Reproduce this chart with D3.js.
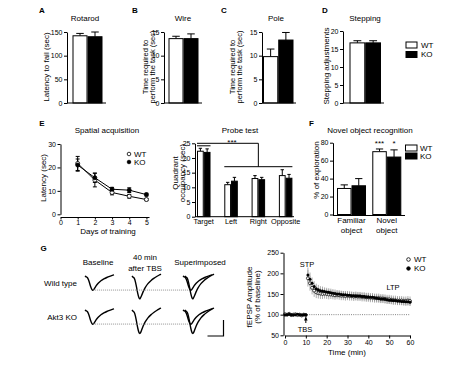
<!DOCTYPE html>
<html><head><meta charset="utf-8">
<script src="https://cdn.jsdelivr.net/npm/d3@7"></script>
<style>
body{margin:0;background:#fff;}
svg{display:block;font-family:"Liberation Sans",Arial,sans-serif;}
</style></head><body>
<svg id="c" width="474" height="366"></svg>
<script>
// ---------------- DATA ----------------
const genotypes = ["WT", "KO"];
const rotarodVals = [142, 140], rotarodErr = [5, 10];
const wireVals = [13.6, 13.6], wireErr = [0.5, 1.0];
const poleVals = [9.8, 13.3], poleErr = [1.6, 1.6];
const steppingVals = [16.7, 16.7], steppingErr = [0.6, 0.6];

const days = [1, 2, 3, 4, 5];
const dayTicks = [0, 1, 2, 3, 4, 5];
const acqWT = [21.7, 14.6, 9.3, 7.7, 6.3], acqWTErr = [3.0, 2.9, 1.0, 0.8, 0.5];
const acqKO = [21.0, 15.6, 10.7, 10.3, 8.4], acqKOErr = [2.6, 2.0, 0.8, 1.0, 0.6];

const quadrants = ["Target", "Left", "Right", "Opposite"];
const probeWT = [22.3, 10.9, 13.0, 14.0], probeWTErr = [1.0, 0.8, 1.0, 2.0];
const probeKO = [21.9, 12.1, 12.6, 13.1], probeKOErr = [1.2, 1.3, 0.8, 1.3];

const objects = ["Familiar", "Novel"];
const novelWT = [29, 70], novelWTErr = [4, 3];
const novelKO = [32, 64], novelKOErr = [8, 8];

const ltpTime = [0,1,2,3,4,5,6,7,8,9,10,11,12,13,14,15,16,17,18,19,20,21,22,23,24,25,26,27,28,29,30,31,32,33,34,35,36,37,38,39,40,41,42,43,44,45,46,47,48,49,50,51,52,53,54,55,56,57,58,59,60];
const ltpWT = [101,100,102,99,100,101,99,100,98,100,99,
  188,176,165,158,154,152,151,150,151,150,149,149,148,147,148,147,146,146,145,146,
  145,145,144,145,144,144,143,143,142,142,141,141,140,140,140,139,139,138,137,137,
  136,135,135,134,134,134,133,133,134,133];
const ltpKO = [99,100,101,100,99,100,101,100,99,100,100,
  196,186,176,168,163,160,158,157,156,155,154,153,152,151,150,150,149,148,148,147,
  147,146,146,145,145,145,144,144,143,143,142,142,141,140,139,138,138,137,136,135,
  135,134,134,133,133,132,132,131,131,130];
const ltpWTErr = [3,3,3,3,3,3,3,3,3,3,3,
  20,18,16,15,14,13,13,12,12,12,12,11,11,11,11,11,11,11,11,11,
  11,11,11,11,11,11,11,11,11,11,11,11,11,11,11,11,11,11,11,11,
  11,11,11,11,11,11,11,11,11,11];
const ltpKOErr = [2,2,2,2,2,2,2,2,2,2,2,
  18,16,14,13,12,12,11,11,10,10,10,10,10,10,9,9,9,9,9,9,
  9,9,9,9,9,9,9,9,9,9,9,9,9,9,9,9,9,9,9,9,
  9,9,9,9,9,9,9,9,9,9];

// representative fEPSP waveform (time in ms, normalized amplitude)
const traceTime = [0, 0.4, 0.8, 1.2, 1.6, 2.0, 2.4, 2.8, 3.2, 3.8, 4.5, 5.5, 6.5, 7.5, 8.5, 9.5, 10];
const traceShape = [0, -0.06, -0.08, -0.25, -0.5, -0.78, -0.96, -1.0, -0.88, -0.68, -0.5, -0.32, -0.2, -0.1, -0.02, 0.05, 0.08];
const traceRows = ["Wild type", "Akt3 KO"];
const ampBaseline = [1.0, 1.0];
const ampAfterTBS = [1.6, 1.65];

// ---------------- DRAWING ----------------
const svg = d3.select("#c");
const FONT = '"Liberation Sans", Arial, sans-serif';

function styleAxis(g) {
  g.attr("font-size", 7).attr("font-family", FONT);
  g.select(".domain").attr("stroke", "#000").attr("stroke-width", 1);
  g.selectAll(".tick line").attr("stroke", "#000");
  g.selectAll(".tick text").attr("fill", "#000");
}
function text(x, cy, s, o = {}) {
  const fs = o.fs || 8;
  return svg.append("text").attr("x", x).attr("y", cy + fs * 0.35)
    .attr("text-anchor", o.anchor || "middle").attr("font-size", fs)
    .attr("font-weight", o.bold ? "bold" : null).attr("fill", "#000").text(s);
}
function vtext(cx, cy, s, fs = 8) {
  return svg.append("text").attr("transform", `translate(${cx + fs * 0.35},${cy}) rotate(-90)`)
    .attr("text-anchor", "middle").attr("font-size", fs).attr("fill", "#000").text(s);
}

function barPanel(o) {
  const y = d3.scaleLinear().domain([0, o.max]).range([o.yb, o.yt]);
  const x = d3.scaleBand().domain(o.groups).range(o.xr).paddingInner(o.pad || 0).paddingOuter(0);
  const s = d3.scaleBand().domain(genotypes).range([0, x.bandwidth()]);
  const g = svg.append("g");
  o.groups.forEach((gr, i) => {
    [["WT", o.wt, o.wtErr], ["KO", o.ko, o.koErr]].forEach(([k, v, e]) => {
      const bx = x(gr) + s(k), bw = s.bandwidth(), cx = bx + bw / 2;
      g.append("line").attr("x1", cx).attr("x2", cx).attr("y1", y(v[i])).attr("y2", y(v[i] + e[i])).attr("stroke", "#000");
      g.append("line").attr("x1", cx - bw / 4).attr("x2", cx + bw / 4).attr("y1", y(v[i] + e[i])).attr("y2", y(v[i] + e[i])).attr("stroke", "#000");
      g.append("rect").attr("x", bx + 0.5).attr("y", y(v[i])).attr("width", bw - 1).attr("height", y(0) - y(v[i]))
        .attr("fill", k === "WT" ? "#fff" : "#000").attr("stroke", "#000");
    });
  });
  const ay = g.append("g").attr("transform", `translate(${o.ax},0)`)
    .call(d3.axisLeft(y).tickValues(o.ticks).tickFormat(d3.format("d")).tickSize(3).tickSizeOuter(0).tickPadding(1.5));
  styleAxis(ay);
  g.append("line").attr("x1", o.ax).attr("x2", o.xEnd).attr("y1", o.xy || y(0)).attr("y2", o.xy || y(0)).attr("stroke", "#000");
  return { x, y, s };
}

// ---- Panel A-D ----
barPanel({ ax: 67, yb: 103, yt: 32, max: 150, ticks: [0, 50, 100, 150], groups: [""], xr: [72.5, 102.5], xEnd: 106,
  wt: [rotarodVals[0]], wtErr: [rotarodErr[0]], ko: [rotarodVals[1]], koErr: [rotarodErr[1]] });
barPanel({ ax: 164, yb: 103, yt: 32, max: 15, ticks: [0, 5, 10, 15], groups: [""], xr: [168.5, 198.5], xEnd: 202,
  wt: [wireVals[0]], wtErr: [wireErr[0]], ko: [wireVals[1]], koErr: [wireErr[1]] });
barPanel({ ax: 262, yb: 103, yt: 32, max: 15, ticks: [0, 5, 10, 15], groups: [""], xr: [263, 293.5], xEnd: 296,
  wt: [poleVals[0]], wtErr: [poleErr[0]], ko: [poleVals[1]], koErr: [poleErr[1]] });
barPanel({ ax: 343, yb: 103, yt: 31, max: 20, ticks: [0, 5, 10, 15, 20], groups: [""], xr: [349.5, 381], xEnd: 384,
  wt: [steppingVals[0]], wtErr: [steppingErr[0]], ko: [steppingVals[1]], koErr: [steppingErr[1]] });

text(42, 10.5, "A", { bold: true });
text(135, 10.5, "B", { bold: true });
text(224, 10.5, "C", { bold: true });
text(325, 10.5, "D", { bold: true });
text(85, 18, "Rotarod");
text(183, 18, "Wire");
text(276, 18, "Pole");
text(365, 18, "Stepping");
vtext(46, 67, "Latency  to fail (sec)");
vtext(145, 67, "Time required to", 7.5);
vtext(152, 67, "perform the task (sec)", 7.5);
vtext(232, 67, "Time required to", 7.5);
vtext(239, 67, "perform the task (sec)", 7.5);
vtext(326, 66, "Stepping adjustments");

// legend D
genotypes.forEach((k, i) => {
  svg.append("rect").attr("x", 406).attr("y", 42 + i * 9.5).attr("width", 11).attr("height", 6)
    .attr("fill", k === "WT" ? "#fff" : "#000").attr("stroke", "#000");
  text(421, 45 + i * 9.5, k, { anchor: "start", fs: 8 });
});

// ---- Panel E: spatial acquisition ----
{
  const x = d3.scaleLinear().domain([0, 5.15]).range([60.5, 149]);
  const y = d3.scaleLinear().domain([0, 30]).range([214.3, 144]);
  const g = svg.append("g");
  const ax = g.append("g").attr("transform", "translate(0,217)")
    .call(d3.axisBottom(x).tickValues(dayTicks).tickFormat(d3.format("d")).tickSize(2.5).tickSizeOuter(0).tickPadding(0.5));
  styleAxis(ax);
  const ay = g.append("g").attr("transform", "translate(60.5,0)")
    .call(d3.axisLeft(y).tickValues([0, 10, 20, 30]).tickFormat(d3.format("d")).tickSize(3).tickSizeOuter(0).tickPadding(1.5));
  styleAxis(ay);
  const series = [["WT", acqWT, acqWTErr], ["KO", acqKO, acqKOErr]];
  series.forEach(([k, v, e]) => {
    days.forEach((d, i) => {
      g.append("line").attr("x1", x(d)).attr("x2", x(d)).attr("y1", y(v[i] - e[i])).attr("y2", y(v[i] + e[i])).attr("stroke", "#000");
      [v[i] - e[i], v[i] + e[i]].forEach(t => g.append("line").attr("x1", x(d) - 2).attr("x2", x(d) + 2).attr("y1", y(t)).attr("y2", y(t)).attr("stroke", "#000"));
    });
    g.append("path").attr("d", d3.line().x((d, i) => x(days[i])).y(d => y(d))(v)).attr("fill", "none").attr("stroke", "#000");
  });
  series.forEach(([k, v]) => {
    days.forEach((d, i) => g.append("circle").attr("cx", x(d)).attr("cy", y(v[i])).attr("r", 2)
      .attr("fill", k === "WT" ? "#fff" : "#000").attr("stroke", "#000").attr("stroke-width", 0.8));
  });
  genotypes.forEach((k, i) => {
    g.append("circle").attr("cx", 129).attr("cy", 154 + i * 8).attr("r", 1.8)
      .attr("fill", k === "WT" ? "#fff" : "#000").attr("stroke", "#000").attr("stroke-width", 0.8);
    text(134, 154 + i * 8, k, { anchor: "start", fs: 8 });
  });
  text(42, 123, "E", { bold: true });
  text(107, 130, "Spatial acquisition");
  vtext(43, 178, "Latency (sec)");
  text(108, 231, "Days of training");
}

// ---- Panel E: probe test ----
{
  const r = barPanel({ ax: 195, yb: 216.7, yt: 143.3, max: 25, ticks: [0, 5, 10, 15, 20, 25], groups: quadrants,
    xr: [197, 292.4], pad: 0.505, xEnd: 294, wt: probeWT, wtErr: probeWTErr, ko: probeKO, koErr: probeKOErr });
  quadrants.forEach(q => text(r.x(q) + r.x.bandwidth() / 2, 221.5, q, { fs: 7.3 }));
  const xL = r.x("Target"), xR = r.x("Right") + r.x.bandwidth() / 2;
  svg.append("path").attr("d", `M${xL},143.3H${xR}V166.7`).attr("fill", "none").attr("stroke", "#000");
  svg.append("line").attr("x1", xL).attr("x2", xL + r.x.bandwidth()).attr("y1", 145.8).attr("y2", 145.8).attr("stroke", "#000");
  svg.append("line").attr("x1", r.x("Left")).attr("x2", r.x("Opposite") + r.x.bandwidth()).attr("y1", 166.7).attr("y2", 166.7).attr("stroke", "#000");
  text(232, 142, "***", { fs: 8 });
  text(240, 130, "Probe test");
  vtext(175, 173, "Quadrant");
  vtext(182, 173, "occupancy (sec)");
}

// ---- Panel F ----
{
  const r = barPanel({ ax: 333, yb: 214.5, yt: 142.7, max: 80, ticks: [0, 20, 40, 60, 80], groups: objects,
    xr: [337, 401.3], pad: 0.178, xEnd: 405, xy: 215.5, wt: novelWT, wtErr: novelWTErr, ko: novelKO, koErr: novelKOErr });
  objects.forEach(o => {
    const cx = r.x(o) + r.x.bandwidth() / 2;
    text(cx, 220, o);
    text(cx, 230, "object");
  });
  const nx = r.x("Novel");
  text(nx + r.s("WT") + r.s.bandwidth() / 2, 143, "***", { fs: 8 });
  text(nx + r.s("KO") + r.s.bandwidth() / 2, 143, "*", { fs: 8 });
  genotypes.forEach((k, i) => {
    svg.append("rect").attr("x", 405.5).attr("y", 145 + i * 8).attr("width", 11.5).attr("height", 6)
      .attr("fill", k === "WT" ? "#fff" : "#000").attr("stroke", "#000");
    text(420, 148 + i * 8, k, { anchor: "start", fs: 8 });
  });
  text(311.5, 123, "F", { bold: true });
  text(370, 130, "Novel object recognition");
  vtext(316, 170, "% of exploration");
}

// ---- Panel G: traces ----
{
  text(43.5, 248, "G", { bold: true });
  text(98, 262, "Baseline");
  text(145, 257, "40 min");
  text(145, 268, "after TBS");
  text(200, 262, "Superimposed");
  const rowY = [276, 310];
  const rowLabelY = [283, 317];
  const colX = [85, 132, 183];
  const tx = d3.scaleLinear().domain([0, 10]);
  traceRows.forEach((row, ri) => {
    text(77, rowLabelY[ri], row, { anchor: "end" });
    const ty = d3.scaleLinear().domain([0, -1]).range([rowY[ri], rowY[ri] + 14.5]);
    const draw = (x0, amp) => {
      tx.range([x0, x0 + 29]);
      svg.append("path").attr("d", d3.line().curve(d3.curveBasis).x((d, i) => tx(traceTime[i])).y(d => ty(d * amp))(traceShape))
        .attr("fill", "none").attr("stroke", "#000").attr("stroke-width", 1.4);
    };
    draw(colX[0], ampBaseline[ri]);
    draw(colX[1], ampAfterTBS[ri]);
    draw(colX[2], ampBaseline[ri]);
    draw(colX[2] + 2, ampAfterTBS[ri]);
    tx.range([colX[0], colX[0] + 29]);
    svg.append("line").attr("x1", tx(2.8)).attr("x2", colX[2] + 6).attr("y1", ty(-0.97 * ampBaseline[ri])).attr("y2", ty(-0.97 * ampBaseline[ri]))
      .attr("stroke", "#888").attr("stroke-width", 0.9).attr("stroke-dasharray", "1,1");
  });
  svg.append("path").attr("d", "M223.5,320V336H207.5").attr("fill", "none").attr("stroke", "#000").attr("stroke-width", 1.2);
}

// ---- Panel G: LTP time course ----
{
  const x = d3.scaleLinear().domain([0, 60]).range([285, 410]);
  const y = d3.scaleLinear().domain([50, 250]).range([335.3, 252.7]);
  const g = svg.append("g");
  g.append("line").attr("x1", x(0)).attr("x2", x(60)).attr("y1", y(100)).attr("y2", y(100))
    .attr("stroke", "#777").attr("stroke-width", 0.9).attr("stroke-dasharray", "1,1.2");
  [[ltpWT, ltpWTErr], [ltpKO, ltpKOErr]].forEach(([v, e]) => {
    ltpTime.forEach((t, i) => g.append("line").attr("x1", x(t)).attr("x2", x(t)).attr("y1", y(v[i] - e[i])).attr("y2", y(v[i] + e[i]))
      .attr("stroke", "#999").attr("stroke-width", 0.8));
  });
  ltpTime.forEach((t, i) => g.append("circle").attr("cx", x(t)).attr("cy", y(ltpWT[i])).attr("r", 1.5)
    .attr("fill", "#fff").attr("stroke", "#000").attr("stroke-width", 0.7));
  ltpTime.forEach((t, i) => g.append("circle").attr("cx", x(t)).attr("cy", y(ltpKO[i])).attr("r", 1.5).attr("fill", "#000"));
  const ax = g.append("g").attr("transform", "translate(0,335.5)")
    .call(d3.axisBottom(x).tickValues([0, 10, 20, 30, 40, 50, 60]).tickFormat(d3.format("d")).tickSize(3).tickSizeOuter(0).tickPadding(1.5));
  styleAxis(ax);
  const ay = g.append("g").attr("transform", "translate(283.5,0)")
    .call(d3.axisLeft(y).tickValues([50, 100, 150, 200, 250]).tickFormat(d3.format("d")).tickSize(3).tickSizeOuter(0).tickPadding(1.5));
  styleAxis(ay);
  text(307, 264, "STP", { fs: 7.5 });
  text(393, 287, "LTP", { fs: 7.5 });
  text(305, 329, "TBS", { fs: 7.5 });
  g.append("line").attr("x1", x(10)).attr("x2", x(10)).attr("y1", 323).attr("y2", 317.5).attr("stroke", "#000");
  g.append("path").attr("d", `M${x(10) - 1.8},320.5L${x(10)},316.5L${x(10) + 1.8},320.5Z`).attr("fill", "#000");
  genotypes.forEach((k, i) => {
    g.append("circle").attr("cx", 408.5).attr("cy", 259.5 + i * 9).attr("r", 1.8)
      .attr("fill", k === "WT" ? "#fff" : "#000").attr("stroke", "#000").attr("stroke-width", 0.8);
    text(414, 259.5 + i * 9, k, { anchor: "start", fs: 8 });
  });
  vtext(249, 297, "fEPSP Amplitude");
  vtext(257.5, 297, "(% of baseline)");
  text(347, 352, "Time (min)");
}
</script>
</body></html>
